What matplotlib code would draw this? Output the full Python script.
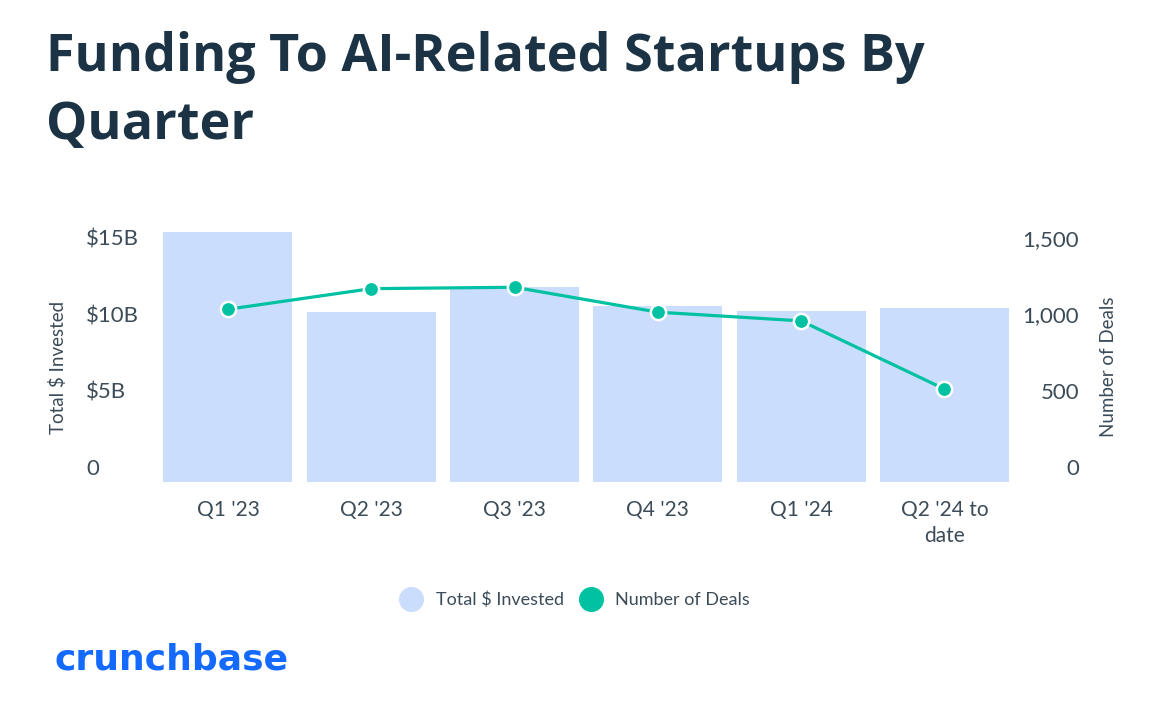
import matplotlib
matplotlib.use("Agg")
import matplotlib.pyplot as plt
import matplotlib.transforms as mtransforms
from matplotlib.lines import Line2D
import numpy as np

categories = ["Q1 '23", "Q2 '23", "Q3 '23", "Q4 '23", "Q1 '24", "Q2 '24 to\ndate"]
invested_b = [16.35, 11.13, 12.75, 11.51, 11.22, 11.39]
deals = [1131, 1266, 1275, 1112, 1055, 609]
left_ticks = [0, 5, 10, 15]
left_labels = ["0", "$5B", "$10B", "$15B"]
right_ticks = [0, 500, 1000, 1500]
right_labels = ["0", "500", "1,000", "1,500"]

BAR = "#cbddfc"
TEAL = "#00c2a2"
TXT = "#3b4b58"
TITLE = "#1b3344"
FONT = ["Lato", "DejaVu Sans"]
plt.rcParams["font.family"] = FONT

W, H = 1174, 703
fig = plt.figure(figsize=(W / 100, H / 100), dpi=100)
fig.patch.set_facecolor("white")

ax_l, ax_r = 156.3, 1016.0
ax_b, ax_t = 482.0, 230.0
ax = fig.add_axes([ax_l / W, 1 - ax_b / H, (ax_r - ax_l) / W, (ax_b - ax_t) / H])
ax2 = ax.twinx()

x = np.arange(len(categories))
ax.bar(x, invested_b, width=0.9, color=BAR, zorder=1)
ax.set_xlim(-0.5, len(categories) - 0.5)
ax.set_ylim(0, 16.5)
ax2.set_ylim(0, 1650)
ax2.plot(x, deals, color=TEAL, lw=2.3, marker="o", markersize=11,
         markerfacecolor=TEAL, markeredgecolor="white", markeredgewidth=1.8, zorder=3)

for a in (ax, ax2):
    for s in a.spines.values():
        s.set_visible(False)
    a.tick_params(length=0)

ax.set_xticks(x)
ax.set_xticklabels(categories, fontsize=15, color=TXT, linespacing=1.38)
ax.tick_params(axis="x", pad=13)

off = mtransforms.ScaledTranslation(0, 15 / 100, fig.dpi_scale_trans)
ax.set_yticks(left_ticks)
ax.set_yticklabels(left_labels, fontsize=16, color=TXT, ha="left")
ax.tick_params(axis="y", pad=(ax_l - 86) * 0.72)
for lab in ax.get_yticklabels():
    lab.set_transform(lab.get_transform() + off)

ax2.set_yticks(right_ticks)
ax2.set_yticklabels(right_labels, fontsize=16, color=TXT, ha="right")
ax2.tick_params(axis="y", pad=(1079 - ax_r) * 0.72)
for lab in ax2.get_yticklabels():
    lab.set_transform(lab.get_transform() + off)

fig.text(58 / W, 1 - 367 / H, "Total $ Invested", rotation=90, ha="center", va="center",
         fontsize=13.5, color=TXT)
fig.text(1108 / W, 1 - 367 / H, "Number of Deals", rotation=90, ha="center", va="center",
         fontsize=13.5, color=TXT)

# title
TFONT = ["Open Sans", "DejaVu Sans"]
fig.text(46 / W, 1 - 57 / H, "Funding To AI-Related Startups By", fontsize=37.5, fontweight="bold",
         color=TITLE, ha="left", va="center", family=TFONT)
fig.text(46 / W, 1 - 126 / H, "Quarter", fontsize=37.5, fontweight="bold",
         color=TITLE, ha="left", va="center", family=TFONT)

# legend
handles = [Line2D([], [], ls="none", marker="o", markersize=17, markerfacecolor=BAR, markeredgecolor=BAR),
           Line2D([], [], ls="none", marker="o", markersize=17, markerfacecolor=TEAL, markeredgecolor=TEAL)]
fig.legend(handles, ["Total $ Invested", "Number of Deals"], loc="center",
           bbox_to_anchor=(575 / W, 1 - 600 / H), ncol=2, frameon=False,
           fontsize=13, labelcolor=TXT, handletextpad=0.75, columnspacing=0.9, handlelength=1.2)

# logo
fig.text(54 / W, 1 - 660 / H, "crunchbase", fontsize=26, fontweight="bold", color="#146aff",
         ha="left", va="center", family=["DejaVu Sans"])

fig.savefig("out.png", dpi=100, facecolor="white")
